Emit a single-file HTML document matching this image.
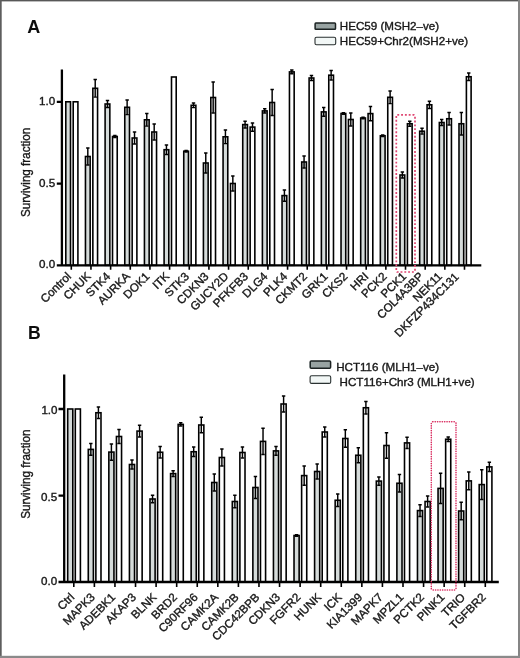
<!DOCTYPE html>
<html lang="en">
<head>
<meta charset="utf-8">
<title>Surviving fraction</title>
<style>
html,body{margin:0;padding:0;background:#fff}
svg{display:block}
text{font-family:"Liberation Sans",Arial,Helvetica,sans-serif;font-size:11.6px;fill:#161616;stroke:#161616;stroke-width:0.36px}
.b{font-weight:bold;font-size:18px;fill:#111;stroke:none}
.ink rect{stroke:#050505;stroke-width:1.6}
.ink path{stroke:#050505;fill:none}
</style>
</head>
<body>
<svg width="520" height="658" viewBox="0 0 520 658">
<rect width="520" height="658" fill="#fff"/>
<!-- frame -->
<rect x="0" y="0" width="520" height="1.4" fill="#585858"/>
<rect x="0" y="0" width="1.7" height="658" fill="#5e5e5e"/>
<rect x="518" y="0" width="2" height="658" fill="#858585"/>
<rect x="0" y="655.8" width="520" height="2.2" fill="#8a8a8a"/>

<defs><filter id="soft" x="0" y="0" width="520" height="658" filterUnits="userSpaceOnUse"><feGaussianBlur stdDeviation="0.38"/></filter><filter id="soft2" x="380" y="100" width="100" height="500" filterUnits="userSpaceOnUse"><feGaussianBlur stdDeviation="0.25"/></filter></defs>
<g filter="url(#soft)">
<!-- ===== Panel A ===== -->
<text class="b" x="27.3" y="32.6">A</text>
<g class="ink">
<rect x="315.1" y="23.1" width="20.4" height="6.1" rx="0.8" fill="#98a3a2" style="stroke-width:1.5;stroke:#1a2222"/>
<rect x="315" y="37.3" width="20.7" height="7.5" rx="1.5" fill="#f2f7f6" style="stroke-width:1.1;stroke:#2a3030"/>
</g>
<text x="339.8" y="30.2">HEC59 (MSH2–ve)</text>
<text x="339.8" y="45.2">HEC59+Chr2(MSH2+ve)</text>
<text x="0" y="0" text-anchor="middle" style="font-size:13.3px" transform="translate(30.3 172.4) rotate(-90) scale(0.876 1)">Surviving fraction</text>
<text x="55.2" y="104.9" text-anchor="end">1.0</text>
<text x="55.2" y="186.8" text-anchor="end">0.5</text>
<text x="55.2" y="268.1" text-anchor="end">0.0</text>
<g class="ink">
<rect x="65.8" y="101.8" width="4.7" height="163.5" fill="#d5dbda"/>
<rect x="73.2" y="101.8" width="4.7" height="163.5" fill="#fff"/>
<rect x="85.46" y="156.5" width="4.7" height="108.8" fill="#d5dbda"/>
<path d="M87.81 148V165M86.11 148h3.4M86.11 165h3.4" stroke-width="1.45"/>
<rect x="92.86" y="88.3" width="4.7" height="177" fill="#fff"/>
<path d="M95.21 79.5V97.1M93.51 79.5h3.4M93.51 97.1h3.4" stroke-width="1.45"/>
<rect x="105.12" y="104" width="4.7" height="161.3" fill="#d5dbda"/>
<path d="M107.47 100.5V107.5M105.77 100.5h3.4M105.77 107.5h3.4" stroke-width="1.45"/>
<rect x="112.52" y="136.5" width="4.7" height="128.8" fill="#fff"/>
<path d="M114.87 135.5V137.5M113.17 135.5h3.4M113.17 137.5h3.4" stroke-width="1.45"/>
<rect x="124.78" y="107.3" width="4.7" height="158" fill="#d5dbda"/>
<path d="M127.13 100V114.6M125.43 100h3.4M125.43 114.6h3.4" stroke-width="1.45"/>
<rect x="132.18" y="138" width="4.7" height="127.3" fill="#fff"/>
<path d="M134.53 132V144M132.83 132h3.4M132.83 144h3.4" stroke-width="1.45"/>
<rect x="144.44" y="119.8" width="4.7" height="145.5" fill="#d5dbda"/>
<path d="M146.79 113.5V126.1M145.09 113.5h3.4M145.09 126.1h3.4" stroke-width="1.45"/>
<rect x="151.84" y="132" width="4.7" height="133.3" fill="#fff"/>
<path d="M154.19 124V140M152.49 124h3.4M152.49 140h3.4" stroke-width="1.45"/>
<rect x="164.1" y="149.7" width="4.7" height="115.6" fill="#d5dbda"/>
<path d="M166.45 145V154.4M164.75 145h3.4M164.75 154.4h3.4" stroke-width="1.45"/>
<rect x="171.5" y="77" width="4.7" height="188.3" fill="#fff"/>
<rect x="183.76" y="151.2" width="4.7" height="114.1" fill="#d5dbda"/>
<path d="M186.11 150.4V152M184.41 150.4h3.4M184.41 152h3.4" stroke-width="1.45"/>
<rect x="191.16" y="105.3" width="4.7" height="160" fill="#fff"/>
<path d="M193.51 103V107.6M191.81 103h3.4M191.81 107.6h3.4" stroke-width="1.45"/>
<rect x="203.42" y="163" width="4.7" height="102.3" fill="#d5dbda"/>
<path d="M205.77 153V173M204.07 153h3.4M204.07 173h3.4" stroke-width="1.45"/>
<rect x="210.82" y="97.5" width="4.7" height="167.8" fill="#fff"/>
<path d="M213.17 82V113M211.47 82h3.4M211.47 113h3.4" stroke-width="1.45"/>
<rect x="223.08" y="136.8" width="4.7" height="128.5" fill="#d5dbda"/>
<path d="M225.43 130V143.6M223.73 130h3.4M223.73 143.6h3.4" stroke-width="1.45"/>
<rect x="230.48" y="183.5" width="4.7" height="81.8" fill="#fff"/>
<path d="M232.83 176V191M231.13 176h3.4M231.13 191h3.4" stroke-width="1.45"/>
<rect x="242.74" y="124.6" width="4.7" height="140.7" fill="#d5dbda"/>
<path d="M245.09 121.25V127.95M243.39 121.25h3.4M243.39 127.95h3.4" stroke-width="1.45"/>
<rect x="250.14" y="127.1" width="4.7" height="138.2" fill="#fff"/>
<path d="M252.49 123V131.2M250.79 123h3.4M250.79 131.2h3.4" stroke-width="1.45"/>
<rect x="262.4" y="110.9" width="4.7" height="154.4" fill="#d5dbda"/>
<path d="M264.75 108.75V113.05M263.05 108.75h3.4M263.05 113.05h3.4" stroke-width="1.45"/>
<rect x="269.8" y="102.5" width="4.7" height="162.8" fill="#fff"/>
<path d="M272.15 89.5V115.5M270.45 89.5h3.4M270.45 115.5h3.4" stroke-width="1.45"/>
<rect x="282.06" y="195.6" width="4.7" height="69.7" fill="#d5dbda"/>
<path d="M284.41 190V201.2M282.71 190h3.4M282.71 201.2h3.4" stroke-width="1.45"/>
<rect x="289.46" y="71.9" width="4.7" height="193.4" fill="#fff"/>
<path d="M291.81 70V73.8M290.11 70h3.4M290.11 73.8h3.4" stroke-width="1.45"/>
<rect x="301.72" y="162" width="4.7" height="103.3" fill="#d5dbda"/>
<path d="M304.07 156V168M302.37 156h3.4M302.37 168h3.4" stroke-width="1.45"/>
<rect x="309.12" y="78" width="4.7" height="187.3" fill="#fff"/>
<path d="M311.47 75.5V80.5M309.77 75.5h3.4M309.77 80.5h3.4" stroke-width="1.45"/>
<rect x="321.38" y="111.9" width="4.7" height="153.4" fill="#d5dbda"/>
<path d="M323.73 107.5V116.3M322.03 107.5h3.4M322.03 116.3h3.4" stroke-width="1.45"/>
<rect x="328.78" y="75.2" width="4.7" height="190.1" fill="#fff"/>
<path d="M331.13 70.5V79.9M329.43 70.5h3.4M329.43 79.9h3.4" stroke-width="1.45"/>
<rect x="341.04" y="113.5" width="4.7" height="151.8" fill="#d5dbda"/>
<path d="M343.39 112.7V114.3M341.69 112.7h3.4M341.69 114.3h3.4" stroke-width="1.45"/>
<rect x="348.44" y="119.5" width="4.7" height="145.8" fill="#fff"/>
<path d="M350.79 113V126M349.09 113h3.4M349.09 126h3.4" stroke-width="1.45"/>
<rect x="360.7" y="118" width="4.7" height="147.3" fill="#d5dbda"/>
<path d="M363.05 117.2V118.8M361.35 117.2h3.4M361.35 118.8h3.4" stroke-width="1.45"/>
<rect x="368.1" y="113.6" width="4.7" height="151.7" fill="#fff"/>
<path d="M370.45 106.5V120.7M368.75 106.5h3.4M368.75 120.7h3.4" stroke-width="1.45"/>
<rect x="380.36" y="135.75" width="4.7" height="129.55" fill="#d5dbda"/>
<path d="M382.71 135V136.5M381.01 135h3.4M381.01 136.5h3.4" stroke-width="1.45"/>
<rect x="387.76" y="97.3" width="4.7" height="168" fill="#fff"/>
<path d="M390.11 91V103.6M388.41 91h3.4M388.41 103.6h3.4" stroke-width="1.45"/>
<rect x="400.02" y="175" width="4.7" height="90.3" fill="#d5dbda"/>
<path d="M402.37 172V178M400.67 172h3.4M400.67 178h3.4" stroke-width="1.45"/>
<rect x="407.42" y="123.75" width="4.7" height="141.55" fill="#fff"/>
<path d="M409.77 121.25V126.25M408.07 121.25h3.4M408.07 126.25h3.4" stroke-width="1.45"/>
<rect x="419.68" y="131.2" width="4.7" height="134.1" fill="#d5dbda"/>
<path d="M422.03 128.3V134.1M420.33 128.3h3.4M420.33 134.1h3.4" stroke-width="1.45"/>
<rect x="427.08" y="104.8" width="4.7" height="160.5" fill="#fff"/>
<path d="M429.43 101.2V108.4M427.73 101.2h3.4M427.73 108.4h3.4" stroke-width="1.45"/>
<rect x="439.34" y="122.5" width="4.7" height="142.8" fill="#d5dbda"/>
<path d="M441.69 119.5V125.5M439.99 119.5h3.4M439.99 125.5h3.4" stroke-width="1.45"/>
<rect x="446.74" y="118.75" width="4.7" height="146.55" fill="#fff"/>
<path d="M449.09 112.5V125M447.39 112.5h3.4M447.39 125h3.4" stroke-width="1.45"/>
<rect x="459" y="123.75" width="4.7" height="141.55" fill="#d5dbda"/>
<path d="M461.35 112.5V135M459.65 112.5h3.4M459.65 135h3.4" stroke-width="1.45"/>
<rect x="466.4" y="76.75" width="4.7" height="188.55" fill="#fff"/>
<path d="M468.75 73V80.5M467.05 73h3.4M467.05 80.5h3.4" stroke-width="1.45"/>
<path d="M61.9 69.5V266.4M56.8 101.8H62M56.8 183.6H62M56.8 265.3H481.3" stroke-width="2.3"/>
<path d="M71.3 265.3v4.4M90.96 265.3v4.4M110.62 265.3v4.4M130.28 265.3v4.4M149.94 265.3v4.4M169.6 265.3v4.4M189.26 265.3v4.4M208.92 265.3v4.4M228.58 265.3v4.4M248.24 265.3v4.4M267.9 265.3v4.4M287.56 265.3v4.4M307.22 265.3v4.4M326.88 265.3v4.4M346.54 265.3v4.4M366.2 265.3v4.4M385.86 265.3v4.4M405.52 265.3v4.4M425.18 265.3v4.4M444.84 265.3v4.4M464.5 265.3v4.4" stroke-width="1.6"/>
</g>
<text x="71.8" y="277.1" text-anchor="end" transform="rotate(-45 71.8 277.1)">Control</text>
<text x="91.46" y="277.1" text-anchor="end" transform="rotate(-45 91.46 277.1)">CHUK</text>
<text x="111.12" y="277.1" text-anchor="end" transform="rotate(-45 111.12 277.1)">STK4</text>
<text x="130.78" y="277.1" text-anchor="end" transform="rotate(-45 130.78 277.1)">AURKA</text>
<text x="150.44" y="277.1" text-anchor="end" transform="rotate(-45 150.44 277.1)">DOK1</text>
<text x="170.1" y="277.1" text-anchor="end" transform="rotate(-45 170.1 277.1)">ITK</text>
<text x="189.76" y="277.1" text-anchor="end" transform="rotate(-45 189.76 277.1)">STK3</text>
<text x="209.42" y="277.1" text-anchor="end" transform="rotate(-45 209.42 277.1)">CDKN3</text>
<text x="229.08" y="277.1" text-anchor="end" transform="rotate(-45 229.08 277.1)">GUCY2D</text>
<text x="248.74" y="277.1" text-anchor="end" transform="rotate(-45 248.74 277.1)">PFKFB3</text>
<text x="268.4" y="277.1" text-anchor="end" transform="rotate(-45 268.4 277.1)">DLG4</text>
<text x="288.06" y="277.1" text-anchor="end" transform="rotate(-45 288.06 277.1)">PLK4</text>
<text x="307.72" y="277.1" text-anchor="end" transform="rotate(-45 307.72 277.1)">CKMT2</text>
<text x="328.58" y="277.1" text-anchor="end" transform="rotate(-45 328.58 277.1)">GRK1</text>
<text x="348.24" y="277.1" text-anchor="end" transform="rotate(-45 348.24 277.1)">CKS2</text>
<text x="369.2" y="277.1" text-anchor="end" transform="rotate(-45 369.2 277.1)">HRI</text>
<text x="387.56" y="277.1" text-anchor="end" transform="rotate(-45 387.56 277.1)">PCK2</text>
<text x="407.02" y="277.1" text-anchor="end" transform="rotate(-45 407.02 277.1)">PCK1</text>
<text x="424.18" y="277.1" text-anchor="end" transform="rotate(-45 424.18 277.1)">COL4A3BP</text>
<text x="442.84" y="277.1" text-anchor="end" transform="rotate(-45 442.84 277.1)">NEK11</text>
<text x="459.5" y="277.6" text-anchor="end" transform="rotate(-45 459.5 277.6)">DKFZP434C131</text>

<!-- ===== Panel B ===== -->
<text class="b" x="28" y="339" style="font-size:17.6px">B</text>
<g class="ink">
<rect x="310.2" y="361" width="20.4" height="7.2" rx="1" fill="#98a3a2" style="stroke-width:1.5;stroke:#1a2222"/>
<rect x="310.1" y="375.8" width="20.6" height="7.6" rx="1.5" fill="#f2f7f6" style="stroke-width:1.1;stroke:#2a3030"/>
</g>
<text x="336.2" y="370.8">HCT116 (MLH1–ve)</text>
<text x="339.6" y="385.6">HCT116+Chr3 (MLH1+ve)</text>
<text x="0" y="0" text-anchor="middle" style="font-size:13.3px" transform="translate(30.3 474.2) rotate(-90) scale(0.876 1)">Surviving fraction</text>
<text x="57.5" y="414.1" text-anchor="end">1.0</text>
<text x="57.2" y="500.5" text-anchor="end">0.5</text>
<text x="57.2" y="584.8" text-anchor="end">0.0</text>
<g class="ink">
<rect x="67.7" y="409" width="5.1" height="173" fill="#d5dbda"/>
<rect x="75.3" y="409" width="5.1" height="173" fill="#fff"/>
<rect x="88.28" y="449.4" width="5.1" height="132.6" fill="#d5dbda"/>
<path d="M90.83 443.5V455.3M89.12 443.5h3.4M89.12 455.3h3.4" stroke-width="1.45"/>
<rect x="95.88" y="412.75" width="5.1" height="169.25" fill="#fff"/>
<path d="M98.42 407V418.5M96.72 407h3.4M96.72 418.5h3.4" stroke-width="1.45"/>
<rect x="108.85" y="452.1" width="5.1" height="129.9" fill="#d5dbda"/>
<path d="M111.4 444V460.2M109.7 444h3.4M109.7 460.2h3.4" stroke-width="1.45"/>
<rect x="116.45" y="436.5" width="5.1" height="145.5" fill="#fff"/>
<path d="M119 429.5V443.5M117.3 429.5h3.4M117.3 443.5h3.4" stroke-width="1.45"/>
<rect x="129.43" y="464.5" width="5.1" height="117.5" fill="#d5dbda"/>
<path d="M131.98 460V469M130.28 460h3.4M130.28 469h3.4" stroke-width="1.45"/>
<rect x="137.03" y="431.1" width="5.1" height="150.9" fill="#fff"/>
<path d="M139.58 425.25V436.95M137.88 425.25h3.4M137.88 436.95h3.4" stroke-width="1.45"/>
<rect x="150" y="499" width="5.1" height="83" fill="#d5dbda"/>
<path d="M152.55 495.25V502.75M150.85 495.25h3.4M150.85 502.75h3.4" stroke-width="1.45"/>
<rect x="157.6" y="452.25" width="5.1" height="129.75" fill="#fff"/>
<path d="M160.15 446.5V458M158.45 446.5h3.4M158.45 458h3.4" stroke-width="1.45"/>
<rect x="170.58" y="473.6" width="5.1" height="108.4" fill="#d5dbda"/>
<path d="M173.13 470.75V476.45M171.43 470.75h3.4M171.43 476.45h3.4" stroke-width="1.45"/>
<rect x="178.18" y="424.4" width="5.1" height="157.6" fill="#fff"/>
<path d="M180.73 422.75V426.05M179.03 422.75h3.4M179.03 426.05h3.4" stroke-width="1.45"/>
<rect x="191.15" y="451.75" width="5.1" height="130.25" fill="#d5dbda"/>
<path d="M193.7 447V456.5M192 447h3.4M192 456.5h3.4" stroke-width="1.45"/>
<rect x="198.75" y="425" width="5.1" height="157" fill="#fff"/>
<path d="M201.3 417.25V432.75M199.6 417.25h3.4M199.6 432.75h3.4" stroke-width="1.45"/>
<rect x="211.73" y="482.5" width="5.1" height="99.5" fill="#d5dbda"/>
<path d="M214.28 474V491M212.58 474h3.4M212.58 491h3.4" stroke-width="1.45"/>
<rect x="219.33" y="457.5" width="5.1" height="124.5" fill="#fff"/>
<path d="M221.88 449V466M220.18 449h3.4M220.18 466h3.4" stroke-width="1.45"/>
<rect x="232.3" y="501.5" width="5.1" height="80.5" fill="#d5dbda"/>
<path d="M234.85 495.25V507.75M233.15 495.25h3.4M233.15 507.75h3.4" stroke-width="1.45"/>
<rect x="239.9" y="452.5" width="5.1" height="129.5" fill="#fff"/>
<path d="M242.45 447V458M240.75 447h3.4M240.75 458h3.4" stroke-width="1.45"/>
<rect x="252.88" y="487.5" width="5.1" height="94.5" fill="#d5dbda"/>
<path d="M255.43 476.5V498.5M253.73 476.5h3.4M253.73 498.5h3.4" stroke-width="1.45"/>
<rect x="260.48" y="441.4" width="5.1" height="140.6" fill="#fff"/>
<path d="M263.03 428.25V454.55M261.33 428.25h3.4M261.33 454.55h3.4" stroke-width="1.45"/>
<rect x="273.45" y="450.9" width="5.1" height="131.1" fill="#d5dbda"/>
<path d="M276 446.5V455.3M274.3 446.5h3.4M274.3 455.3h3.4" stroke-width="1.45"/>
<rect x="281.05" y="404" width="5.1" height="178" fill="#fff"/>
<path d="M283.6 396V412M281.9 396h3.4M281.9 412h3.4" stroke-width="1.45"/>
<rect x="294.03" y="535.5" width="5.1" height="46.5" fill="#d5dbda"/>
<path d="M296.58 534.8V536.2M294.88 534.8h3.4M294.88 536.2h3.4" stroke-width="1.45"/>
<rect x="301.63" y="475.6" width="5.1" height="106.4" fill="#fff"/>
<path d="M304.18 466V485.2M302.48 466h3.4M302.48 485.2h3.4" stroke-width="1.45"/>
<rect x="314.6" y="471.5" width="5.1" height="110.5" fill="#d5dbda"/>
<path d="M317.15 464V479M315.45 464h3.4M315.45 479h3.4" stroke-width="1.45"/>
<rect x="322.2" y="432" width="5.1" height="150" fill="#fff"/>
<path d="M324.75 427V437M323.05 427h3.4M323.05 437h3.4" stroke-width="1.45"/>
<rect x="335.18" y="500.25" width="5.1" height="81.75" fill="#d5dbda"/>
<path d="M337.73 494V506.5M336.03 494h3.4M336.03 506.5h3.4" stroke-width="1.45"/>
<rect x="342.78" y="438.5" width="5.1" height="143.5" fill="#fff"/>
<path d="M345.33 429.75V447.25M343.63 429.75h3.4M343.63 447.25h3.4" stroke-width="1.45"/>
<rect x="355.75" y="455.25" width="5.1" height="126.75" fill="#d5dbda"/>
<path d="M358.3 447.75V462.75M356.6 447.75h3.4M356.6 462.75h3.4" stroke-width="1.45"/>
<rect x="363.35" y="407.75" width="5.1" height="174.25" fill="#fff"/>
<path d="M365.9 401.5V414M364.2 401.5h3.4M364.2 414h3.4" stroke-width="1.45"/>
<rect x="376.32" y="481.1" width="5.1" height="100.9" fill="#d5dbda"/>
<path d="M378.88 477V485.2M377.18 477h3.4M377.18 485.2h3.4" stroke-width="1.45"/>
<rect x="383.93" y="445.5" width="5.1" height="136.5" fill="#fff"/>
<path d="M386.48 432.75V458.25M384.78 432.75h3.4M384.78 458.25h3.4" stroke-width="1.45"/>
<rect x="396.9" y="483.25" width="5.1" height="98.75" fill="#d5dbda"/>
<path d="M399.45 474.5V492M397.75 474.5h3.4M397.75 492h3.4" stroke-width="1.45"/>
<rect x="404.5" y="442.9" width="5.1" height="139.1" fill="#fff"/>
<path d="M407.05 437.25V448.55M405.35 437.25h3.4M405.35 448.55h3.4" stroke-width="1.45"/>
<rect x="417.47" y="510.6" width="5.1" height="71.4" fill="#d5dbda"/>
<path d="M420.02 504.75V516.45M418.32 504.75h3.4M418.32 516.45h3.4" stroke-width="1.45"/>
<rect x="425.07" y="501.5" width="5.1" height="80.5" fill="#fff"/>
<path d="M427.62 496V507M425.93 496h3.4M425.93 507h3.4" stroke-width="1.45"/>
<rect x="438.05" y="488.4" width="5.1" height="93.6" fill="#d5dbda"/>
<path d="M440.6 473.25V503.55M438.9 473.25h3.4M438.9 503.55h3.4" stroke-width="1.45"/>
<rect x="445.65" y="439.25" width="5.1" height="142.75" fill="#fff"/>
<path d="M448.2 437V441.5M446.5 437h3.4M446.5 441.5h3.4" stroke-width="1.45"/>
<rect x="458.63" y="511" width="5.1" height="71" fill="#d5dbda"/>
<path d="M461.18 502.25V519.75M459.48 502.25h3.4M459.48 519.75h3.4" stroke-width="1.45"/>
<rect x="466.23" y="480.9" width="5.1" height="101.1" fill="#fff"/>
<path d="M468.78 472V489.8M467.08 472h3.4M467.08 489.8h3.4" stroke-width="1.45"/>
<rect x="479.2" y="484.6" width="5.1" height="97.4" fill="#d5dbda"/>
<path d="M481.75 469.75V499.45M480.05 469.75h3.4M480.05 499.45h3.4" stroke-width="1.45"/>
<rect x="486.8" y="466.9" width="5.1" height="115.1" fill="#fff"/>
<path d="M489.35 462.25V471.55M487.65 462.25h3.4M487.65 471.55h3.4" stroke-width="1.45"/>
<path d="M64.2 374.4V583.1M58.5 409H64M58.5 495.6H64M58.5 582H498.8" stroke-width="2.3"/>
<path d="M73.8 582v5M94.38 582v5M114.95 582v5M135.53 582v5M156.1 582v5M176.68 582v5M197.25 582v5M217.83 582v5M238.4 582v5M258.97 582v5M279.55 582v5M300.12 582v5M320.7 582v5M341.27 582v5M361.85 582v5M382.42 582v5M403 582v5M423.57 582v5M444.15 582v5M464.73 582v5M485.3 582v5" stroke-width="1.6"/>
</g>
<text x="75" y="598" text-anchor="end" transform="rotate(-45 75 598)">Ctrl</text>
<text x="95.58" y="598" text-anchor="end" transform="rotate(-45 95.58 598)">MAPK3</text>
<text x="116.15" y="598" text-anchor="end" transform="rotate(-45 116.15 598)">ADEBK1</text>
<text x="136.72" y="598" text-anchor="end" transform="rotate(-45 136.72 598)">AKAP3</text>
<text x="157.3" y="598" text-anchor="end" transform="rotate(-45 157.3 598)">BLNK</text>
<text x="177.88" y="598" text-anchor="end" transform="rotate(-45 177.88 598)">BRD2</text>
<text x="198.45" y="598" text-anchor="end" transform="rotate(-45 198.45 598)">C90RF96</text>
<text x="219.03" y="598" text-anchor="end" transform="rotate(-45 219.03 598)">CAMK2A</text>
<text x="239.6" y="598" text-anchor="end" transform="rotate(-45 239.6 598)">CAMK2B</text>
<text x="260.17" y="598" text-anchor="end" transform="rotate(-45 260.17 598)">CDC42BPB</text>
<text x="280.75" y="598" text-anchor="end" transform="rotate(-45 280.75 598)">CDKN3</text>
<text x="301.32" y="598" text-anchor="end" transform="rotate(-45 301.32 598)">FGFR2</text>
<text x="321.9" y="598" text-anchor="end" transform="rotate(-45 321.9 598)">HUNK</text>
<text x="342.47" y="598" text-anchor="end" transform="rotate(-45 342.47 598)">ICK</text>
<text x="363.05" y="598" text-anchor="end" transform="rotate(-45 363.05 598)">KIA1399</text>
<text x="383.62" y="598" text-anchor="end" transform="rotate(-45 383.62 598)">MAPK7</text>
<text x="404.2" y="598" text-anchor="end" transform="rotate(-45 404.2 598)">MPZL1</text>
<text x="424.77" y="598" text-anchor="end" transform="rotate(-45 424.77 598)">PCTK2</text>
<text x="445.35" y="598" text-anchor="end" transform="rotate(-45 445.35 598)">PINK1</text>
<text x="465.93" y="598" text-anchor="end" transform="rotate(-45 465.93 598)">TRIO</text>
<text x="486.5" y="598" text-anchor="end" transform="rotate(-45 486.5 598)">TGFBR2</text>
</g>
<g filter="url(#soft2)">
<rect x="396.3" y="114.9" width="18.7" height="157.1" rx="1" fill="none" stroke="#df4672" stroke-width="1.7" stroke-dasharray="1.9 1.9"/>
<rect x="431.3" y="421.7" width="24.7" height="168.3" rx="1.5" fill="none" stroke="#d92b5f" stroke-width="1.55" stroke-linecap="round" stroke-dasharray="0.2 2.16"/>
</g>
</svg>
</body>
</html>
